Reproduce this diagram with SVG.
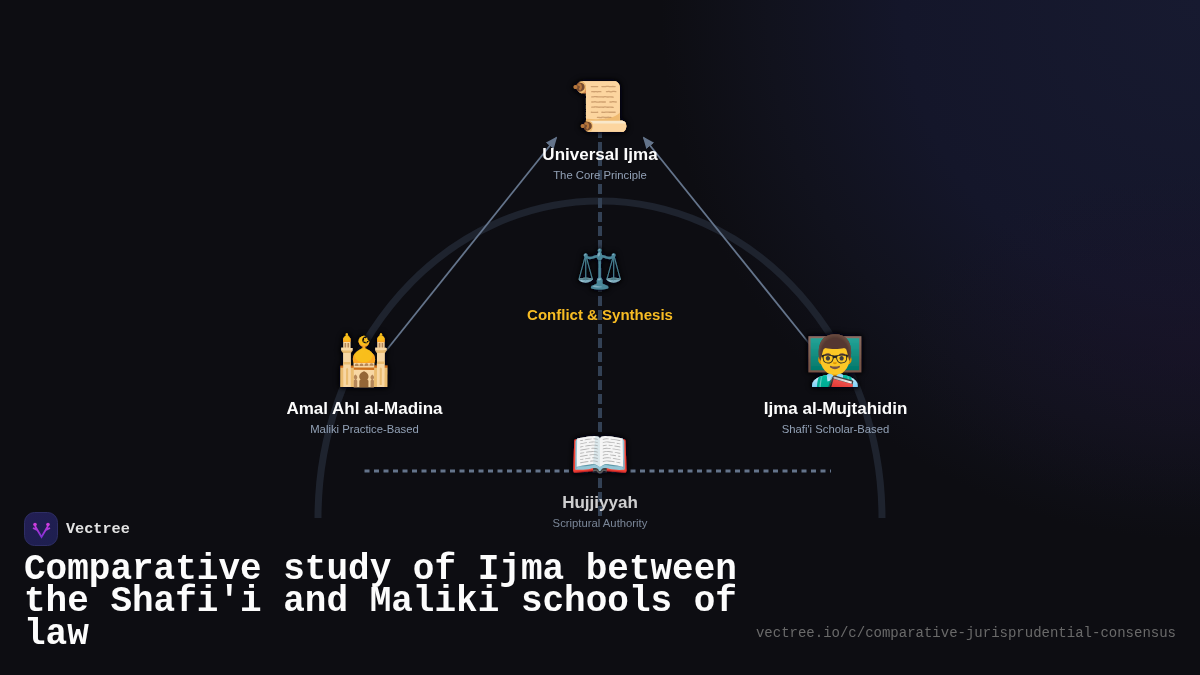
<svg xmlns="http://www.w3.org/2000/svg" width="1200" height="675" viewBox="0 0 1200 675">
<defs>
<radialGradient id="glow" gradientUnits="userSpaceOnUse" cx="0" cy="0" r="1" gradientTransform="translate(1200 0) scale(540 540)"><stop offset="0" stop-color="#171a30"/><stop offset="0.55" stop-color="#14162a"/><stop offset="0.8" stop-color="#11121d"/><stop offset="1" stop-color="#0d0d12"/></radialGradient>
<radialGradient id="plum" gradientUnits="userSpaceOnUse" cx="0" cy="0" r="1" gradientTransform="translate(1200 340) scale(300 170)"><stop offset="0" stop-color="#1c1228" stop-opacity="0.45"/><stop offset="1" stop-color="#1c1228" stop-opacity="0"/></radialGradient>
<filter id="halo" x="-30%" y="-30%" width="160%" height="160%"><feDropShadow dx="0" dy="0" stdDeviation="2.500" flood-color="#0d0d12"/><feDropShadow dx="0" dy="0" stdDeviation="2.500" flood-color="#0d0d12"/></filter>
<marker id="arrow" markerWidth="12" markerHeight="12" refX="10" refY="5" orient="auto" markerUnits="userSpaceOnUse"><path d="M0 0L12 5L0 10z" fill="#64748b"/></marker>
<linearGradient id="logo" x1="0" y1="0" x2="1" y2="1"><stop offset="0" stop-color="#241f55"/><stop offset="1" stop-color="#1e2050"/></linearGradient>
<linearGradient id="mark" gradientUnits="userSpaceOnUse" x1="41" y1="523" x2="41" y2="538"><stop offset="0" stop-color="#d13fe0"/><stop offset="1" stop-color="#7c2fd6"/></linearGradient>
</defs>
<style>
.t{font-family:"Liberation Sans",Arial,sans-serif;font-weight:700;font-size:17px;fill:#fff;text-anchor:middle}
.s{font-family:"Liberation Sans",Arial,sans-serif;font-size:11.3px;fill:#94a3b8;text-anchor:middle}
.e{font-family:"Noto Color Emoji",sans-serif;text-anchor:middle;font-size:48px;filter:url(#halo)}
.m{font-family:"Liberation Mono",monospace}
</style>
<rect width="1200" height="675" fill="#0d0d12"/>
<rect x="660" width="540" height="540" fill="url(#glow)"/>
<rect x="900" y="170" width="300" height="340" fill="url(#plum)"/>
<g id="connectors" fill="none">
<path d="M318 518A282 317 0 0 1 882 518" stroke="#1e232e" stroke-width="7"/>
<path d="M600 128V518" stroke="#334155" stroke-width="4" stroke-dasharray="10 4"/>
<path d="M364.500 471H831" stroke="#64748b" stroke-width="3" stroke-dasharray="5 4.500"/>
<path d="M385 352L556 138" stroke="#64748b" stroke-width="1.800" marker-end="url(#arrow)"/>
<path d="M812 347L644 138" stroke="#64748b" stroke-width="1.800" marker-end="url(#arrow)"/>
</g>
<g id="node-core" opacity="0.99"><text class="e" x="600" y="123">📜</text><text class="t" x="600" y="160">Universal Ijma</text><text class="s" x="600" y="179">The Core Principle</text></g>
<g id="node-conflict" opacity="0.99"><text class="e" x="600" y="282" style="font-size:38px">⚖️</text><text class="t" x="600" y="320" style="font-size:15px;fill:#fbbf24">Conflict &amp; Synthesis</text></g>
<g id="node-maliki" opacity="0.99"><text class="e" x="364.500" y="377">🕌</text><text class="t" x="364.500" y="414">Amal Ahl al-Madina</text><text class="s" x="364.500" y="433">Maliki Practice-Based</text></g>
<g id="node-shafii" opacity="0.99"><text class="e" x="835.500" y="377">👨‍🏫</text><text class="t" x="835.500" y="414">Ijma al-Mujtahidin</text><text class="s" x="835.500" y="433">Shafi'i Scholar-Based</text></g>
<g id="node-hujjiyyah"><text class="e" x="600" y="471">📖</text><text class="t" x="600" y="508" opacity="0.8">Hujjiyyah</text><text class="s" x="600" y="527" opacity="0.8">Scriptural Authority</text></g>
<g id="brand" opacity="0.99">
<rect x="24.500" y="512.500" width="33" height="33" rx="10" fill="url(#logo)" stroke="#2f2f66"/>
<path d="M35 526L41.500 537L48 526M33 528L37 530M50 528L46 530" fill="none" stroke="url(#mark)" stroke-width="1.800"/>
<circle cx="35" cy="524.500" r="1.800" fill="#d13fe0"/><circle cx="48" cy="524.500" r="1.800" fill="#d13fe0"/>
<text class="m" x="66" y="532.500" font-size="15.200" font-weight="700" fill="#e5e5e5">Vectree</text>
</g>
<g id="title" class="m" font-size="36" font-weight="700" fill="#fff" opacity="0.99">
<text x="24" y="579">Comparative study of Ijma between</text>
<text x="24" y="611">the Shafi'i and Maliki schools of</text>
<text x="24" y="644">law</text>
</g>
<text id="url" class="m" x="1176" y="637" font-size="14" fill="#6b6b6b" text-anchor="end" opacity="0.99">vectree.io/c/comparative-jurisprudential-consensus</text>
</svg>
